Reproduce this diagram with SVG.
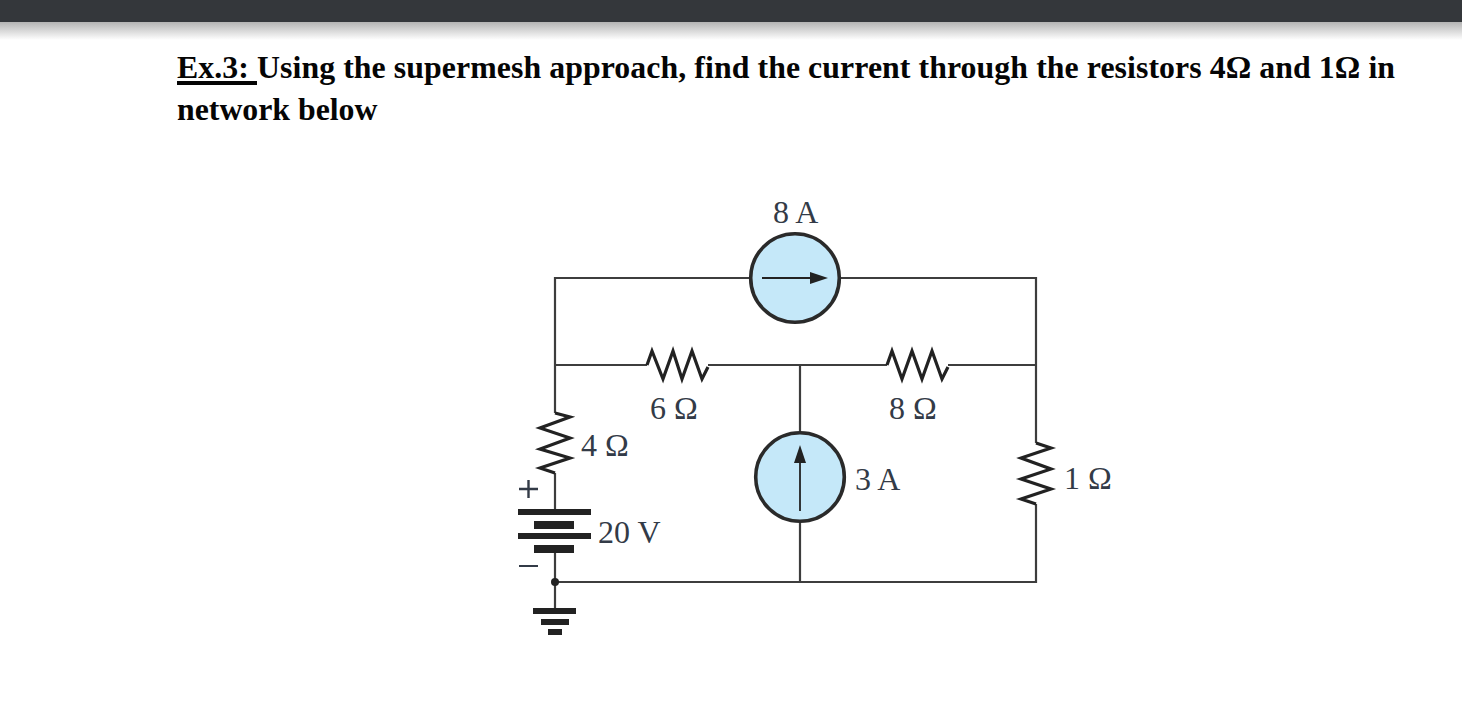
<svg xmlns="http://www.w3.org/2000/svg" width="1462" height="725" viewBox="0 0 1462 725">
<style>
.h{font-family:"Liberation Serif",serif;font-weight:bold;font-size:31.800px;fill:#050505}
.l{font-family:"Liberation Serif",serif;font-size:32px;fill:#333b47}
.w{fill:none;stroke:#3d3d3d;stroke-width:2.2}
.z{fill:none;stroke:#222;stroke-width:3.2;stroke-linejoin:miter}
.s{fill:#c5e8f9;stroke:#2a2a2a;stroke-width:3.600}
.p{fill:#222}
.a{stroke:#222;stroke-width:1.8;fill:none}
</style>
<defs>
<linearGradient id="sh" x1="0" y1="0" x2="0" y2="1"><stop offset="0" stop-color="#b4b4b4"/><stop offset="1" stop-color="#fff"/></linearGradient>
</defs>
<rect width="1462" height="725" fill="#fff"/>
<rect y="22" width="1462" height="18" fill="url(#sh)"/>
<rect width="1462" height="22" fill="#34373b"/>
<g id="title">
<text class="h" x="177" y="78" textLength="1218" lengthAdjust="spacing">Ex.3: Using the supermesh approach, find the current through the resistors 4Ω and 1Ω in</text>
<rect x="177" y="81" width="80" height="4" fill="#050505"/>
<text class="h" x="177" y="120">network below</text>
</g>
<g id="connectors">
<path class="w" d="M750 278H555V413M555 365H647M708 365H887M948 365H1036M840 278H1036V443M800 365V432M800 522V582M555 473V512M555 552V611M555 582H1036V504"/>
</g>
<g id="source-8a"><circle class="s" cx="795" cy="278" r="44.300"/><path class="a" d="M762 278H812"/><path class="p" d="M828 278L810 272V284Z"/><text class="l" x="773" y="223">8 A</text></g>
<g id="source-3a"><circle class="s" cx="800" cy="477" r="44.300"/><path class="a" d="M800 511V460"/><path class="p" d="M800 445L794 463H806Z"/><text class="l" x="855" y="490">3 A</text></g>
<g id="r-6"><path class="z" d="M647 365L652 351L663 379L673 351L682 379L692 351L702 379L708 367"/><text class="l" x="650" y="419">6 Ω</text></g>
<g id="r-8"><path class="z" d="M887 365L892 351L902 379L912 351L922 379L932 351L942 379L948 367"/><text class="l" x="889" y="419">8 Ω</text></g>
<g id="r-4"><path class="z" d="M555 413L570 417L540 428L570 438L540 449L570 458L540 468L555 473"/><text class="l" x="581" y="456">4 Ω</text></g>
<g id="r-1"><path class="z" d="M1036 443L1051 448L1021 458L1051 469L1021 479L1051 489L1021 499L1036 504"/><text class="l" x="1064" y="489">1 Ω</text></g>
<g id="battery">
<rect class="p" x="518" y="509" width="73" height="6"/><rect class="p" x="534" y="521" width="40" height="8"/><rect class="p" x="518" y="533" width="73" height="6"/><rect class="p" x="534" y="545" width="40" height="8"/>
<text class="l" x="598" y="543">20 V</text>
<path d="M519 489H538M528.500 480V498" stroke="#333b47" stroke-width="2.400" fill="none"/>
<path d="M519 566H538" stroke="#333b47" stroke-width="2" fill="none"/>
</g>
<g id="junction"><circle class="p" cx="555" cy="582" r="4"/></g>
<g id="ground"><rect class="p" x="533" y="608" width="43" height="6"/><rect class="p" x="541" y="619" width="28" height="6"/><rect class="p" x="548" y="629" width="14" height="6"/></g>
</svg>
